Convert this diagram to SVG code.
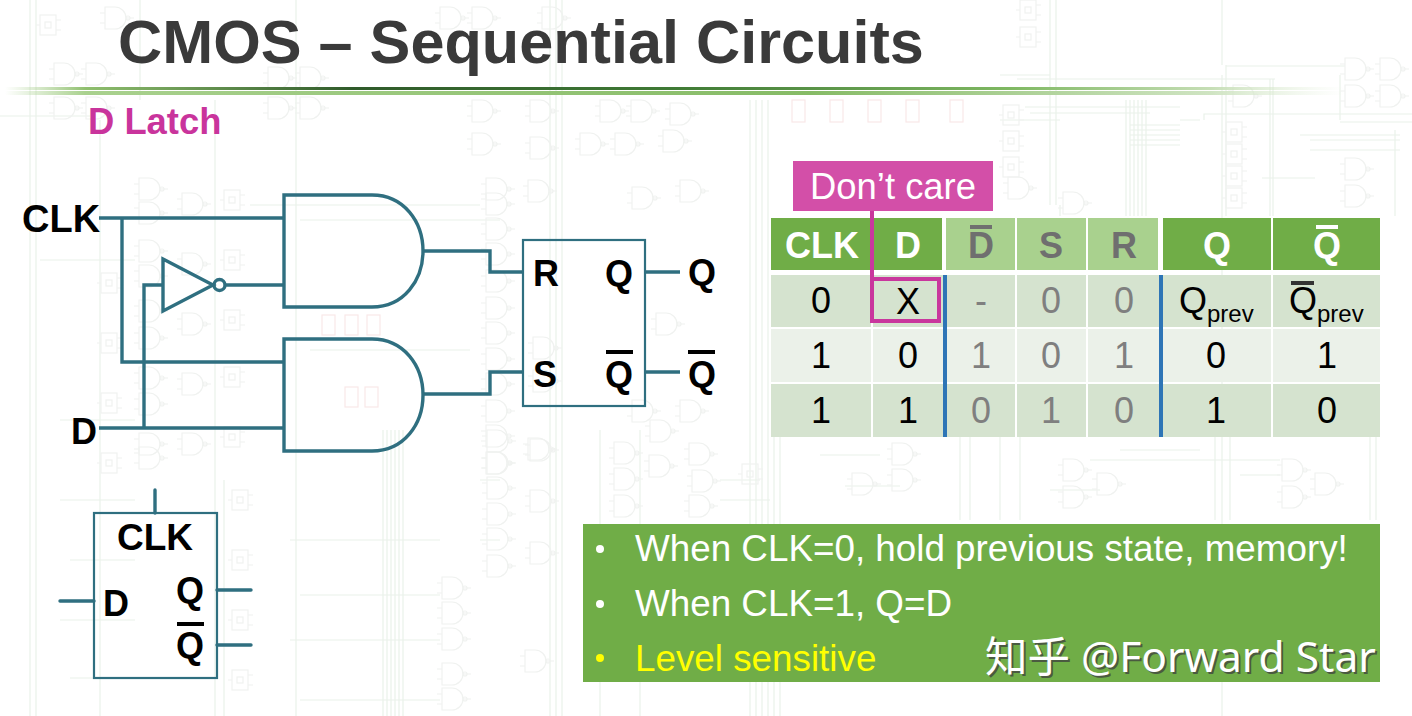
<svg xmlns="http://www.w3.org/2000/svg" width="1412" height="716" viewBox="0 0 1412 716">
<style>
text{font-family:"Liberation Sans",Arial,sans-serif}
.w{stroke:#2f6f80;stroke-width:3.4;fill:none}
.thin{stroke:#2f6f80;stroke-width:2.2;fill:none}
.g{fill:none;stroke:#f0f2f0;stroke-width:1.2}
.bus{fill:none;stroke:#e9f2e9;stroke-width:1.2}
.seg{fill:none;stroke:#f9e8e8;stroke-width:1.2}
.b{font-weight:700;fill:#000;font-size:36px}
.tc{text-anchor:middle}
.hd{font-weight:700;fill:#fff;font-size:36px;text-anchor:middle}
.hm{font-weight:700;fill:#6f6f6f;font-size:36px;text-anchor:middle}
.v{fill:#000;font-size:36px;text-anchor:middle}
.vm{fill:#7f7f7f;font-size:36px;text-anchor:middle}
.sub{font-size:24px;fill:#000}
.li{fill:#fff;font-size:36.8px}
.hg{fill:#70ad47}.hl{fill:#a9d18e}.r1{fill:#d5e3cf}.r2{fill:#ebf1e9}
.blue{fill:#2e75b6}
</style>
<defs>
<linearGradient id="rule" x1="0" x2="1" y1="0" y2="0">
<stop offset="0" stop-color="#a9d18e" stop-opacity="0"/>
<stop offset=".06" stop-color="#8fbf6e"/>
<stop offset=".26" stop-color="#2f5a2a"/>
<stop offset=".5" stop-color="#3f7a35"/>
<stop offset=".75" stop-color="#7fb862"/>
<stop offset=".9" stop-color="#c6deb6"/>
<stop offset="1" stop-color="#e4f0dc" stop-opacity="0"/>
</linearGradient>
<linearGradient id="rule2" x1="0" x2="1" y1="0" y2="0">
<stop offset="0" stop-color="#a9d18e" stop-opacity="0"/>
<stop offset=".06" stop-color="#a9d18e"/>
<stop offset=".6" stop-color="#86bb66"/>
<stop offset=".9" stop-color="#cfe4c2"/>
<stop offset="1" stop-color="#e4f0dc" stop-opacity="0"/>
</linearGradient>
<g id="nand"><path class="g" d="M0 0h10a11 11 0 0 1 0 22H0zM21 11h8M-5 6h5M-5 16h5"/><circle class="g" cx="23" cy="11" r="2"/></g>
<g id="rom"><rect class="g" width="16" height="20"/><rect class="g" x="5" y="7" width="6" height="6"/><path class="g" d="M16 5h5M16 15h5M-4 10h4"/></g>
</defs>
<rect width="1412" height="716" fill="#fff"/>
<g id="background">
<path class="bus" d="M30 0V716M36 0V716M100 120V716M140 0V100M215 100V716M224 480V716M296 0V716M383 430V716M387 430V716M391 430V716M395 430V716M399 430V716M403 430V716M550 0V716M556 0V716M562 0V716M600 430V716M640 430V716M750 100V716M756 100V716M762 100V716M768 100V716M774 436V716M780 436V716M960 436V520M970 436V520M1000 436V520M1020 436V520M1050 0V205M1056 0V205M1060 205V216M1126 100V216M1130 100V216M1134 100V216M1138 100V216M1142 100V216M1146 100V216M1222 0V65M1222 75V716M1226 65V216M1270 79V216M1273 79V216M1340 75V120M1395 130V216M1215 436V520M1230 436V520M1370 436V520M1376 436V520"/>
<path class="bus" d="M0 116H90M1017 79H1275M1226 66H1345M1025 107H1180M1030 113H1150M1130 125H1180M1130 130H1180M1130 135H1180M1130 140H1180M1130 145H1180M1180 120H1200M1204 120V114H1412M1340 122H1412M1300 135H1400M1310 140H1400M1310 150H1400M1262 178H1315M300 220H500M40 260H135M250 205H480M310 350H470M60 420H135M60 620H135M70 560H135M60 500H135M70 678H135M290 540H440M300 595H440M290 640H440M300 700H440M480 480H500M480 540H500M600 650H780M1090 460H1280M720 480H760M1050 490H1100M1000 120H1060M1050 75H1000M820 455H880M845 486H900M1120 450H1200M1240 475H1280M720 500H770"/>
<g id="gates">
<use href="#nand" x="487" y="430"/><use href="#nand" x="487" y="452"/><use href="#nand" x="530" y="439"/><use href="#nand" x="487" y="477"/><use href="#nand" x="487" y="503"/><use href="#nand" x="530" y="490"/><use href="#nand" x="487" y="528"/><use href="#nand" x="487" y="555"/><use href="#nand" x="530" y="542"/><use href="#nand" x="442" y="577"/><use href="#nand" x="442" y="602"/><use href="#nand" x="442" y="628"/><use href="#nand" x="442" y="663"/><use href="#nand" x="442" y="688"/><use href="#nand" x="525" y="650"/><use href="#nand" x="614" y="442"/><use href="#nand" x="614" y="468"/><use href="#nand" x="614" y="495"/><use href="#nand" x="649" y="455"/><use href="#nand" x="689" y="443"/><use href="#nand" x="692" y="470"/><use href="#nand" x="689" y="495"/>
<use href="#nand" x="1345" y="58"/><use href="#nand" x="1380" y="58"/><use href="#nand" x="1345" y="85"/><use href="#nand" x="1380" y="85"/><use href="#nand" x="1233" y="85"/><use href="#nand" x="1345" y="158"/><use href="#nand" x="1345" y="185"/><use href="#nand" x="1063" y="192"/><use href="#nand" x="1008" y="177"/>
<use href="#nand" x="892" y="443"/><use href="#nand" x="892" y="469"/><use href="#nand" x="852" y="473"/><use href="#nand" x="1063" y="459"/><use href="#nand" x="1063" y="486"/><use href="#nand" x="1097" y="473"/><use href="#nand" x="1282" y="459"/><use href="#nand" x="1282" y="486"/><use href="#nand" x="1315" y="473"/>
<use href="#nand" x="105" y="7"/><use href="#nand" x="54" y="63"/><use href="#nand" x="86" y="63"/><use href="#nand" x="54" y="97"/><use href="#nand" x="86" y="97"/><use href="#nand" x="268" y="67"/><use href="#nand" x="300" y="67"/><use href="#nand" x="268" y="97"/><use href="#nand" x="300" y="97"/><use href="#nand" x="440" y="7"/><use href="#nand" x="472" y="7"/><use href="#nand" x="542" y="7"/><use href="#nand" x="472" y="100"/><use href="#nand" x="530" y="100"/><use href="#nand" x="600" y="100"/><use href="#nand" x="631" y="100"/><use href="#nand" x="670" y="103"/><use href="#nand" x="472" y="133"/><use href="#nand" x="530" y="137"/><use href="#nand" x="580" y="133"/><use href="#nand" x="615" y="133"/><use href="#nand" x="663" y="130"/>
<use href="#nand" x="139" y="178"/><use href="#nand" x="139" y="202"/><use href="#nand" x="182" y="193"/><use href="#nand" x="139" y="240"/><use href="#nand" x="182" y="253"/><use href="#nand" x="139" y="265"/><use href="#nand" x="139" y="300"/><use href="#nand" x="182" y="313"/><use href="#nand" x="139" y="327"/><use href="#nand" x="139" y="367"/><use href="#nand" x="182" y="373"/><use href="#nand" x="139" y="393"/><use href="#nand" x="139" y="433"/><use href="#nand" x="182" y="433"/><use href="#nand" x="139" y="447"/>
<use href="#nand" x="486" y="178"/><use href="#nand" x="528" y="180"/><use href="#nand" x="486" y="193"/><use href="#nand" x="486" y="218"/><use href="#nand" x="486" y="243"/><use href="#nand" x="486" y="270"/><use href="#nand" x="486" y="297"/><use href="#nand" x="486" y="322"/><use href="#nand" x="486" y="348"/><use href="#nand" x="533" y="337"/><use href="#nand" x="533" y="370"/><use href="#nand" x="486" y="373"/><use href="#nand" x="486" y="400"/><use href="#nand" x="486" y="425"/><use href="#nand" x="528" y="438"/><use href="#nand" x="486" y="452"/><use href="#nand" x="632" y="187"/><use href="#nand" x="680" y="180"/><use href="#nand" x="656" y="313"/><use href="#nand" x="680" y="400"/><use href="#nand" x="632" y="400"/><use href="#nand" x="650" y="420"/>
<use href="#rom" x="101" y="273"/><use href="#rom" x="101" y="333"/><use href="#rom" x="101" y="393"/><use href="#rom" x="101" y="453"/><use href="#rom" x="224" y="190"/><use href="#rom" x="224" y="250"/><use href="#rom" x="224" y="310"/><use href="#rom" x="224" y="367"/><use href="#rom" x="224" y="427"/><use href="#rom" x="232" y="490"/><use href="#rom" x="232" y="550"/><use href="#rom" x="232" y="610"/><use href="#rom" x="232" y="670"/><use href="#rom" x="1003" y="105"/><use href="#rom" x="1003" y="131"/><use href="#rom" x="1003" y="157"/><use href="#rom" x="1226" y="122"/><use href="#rom" x="1226" y="144"/><use href="#rom" x="1226" y="166"/><use href="#rom" x="1226" y="188"/><use href="#rom" x="742" y="464"/><use href="#rom" x="1020" y="0"/><use href="#rom" x="1020" y="27"/><use href="#rom" x="40" y="15"/>
</g>
<g id="segments"><rect class="seg" x="792" y="100" width="13" height="22"/><rect class="seg" x="830" y="100" width="13" height="22"/><rect class="seg" x="868" y="100" width="13" height="22"/><rect class="seg" x="906" y="100" width="13" height="22"/><rect class="seg" x="950" y="100" width="13" height="22"/><rect class="seg" x="322" y="315" width="13" height="20"/><rect class="seg" x="345" y="315" width="13" height="20"/><rect class="seg" x="367" y="315" width="13" height="20"/><rect class="seg" x="345" y="387" width="13" height="20"/><rect class="seg" x="365" y="387" width="13" height="20"/></g>
</g>
<g id="title"><text x="118" y="63" font-size="61.200" font-weight="700" fill="#3a3a3a">CMOS – Sequential Circuits</text>
<rect x="5" y="87" width="1340" height="3" fill="url(#rule)"/><rect x="5" y="91" width="1340" height="4" fill="url(#rule2)"/></g>
<text id="section" x="88" y="134" font-size="36.400" font-weight="700" fill="#c9349c">D Latch</text>
<g id="connectors">
<path class="w" d="M99 218H284M122 218V362H284M99 428H284M144 428V285H163M225 285H284M423 251H490V272H523M423 394H490V372H523M645 272H680M645 372H680"/>
<path class="w" d="M155 490V513M60 601H94M217 590H251M217 645H251" stroke-linecap="round"/>
</g>
<g id="and1"><path class="w" d="M284 195H372C404 195 423 222 423 251S404 307 372 307H284Z"/></g>
<g id="and2"><path class="w" d="M284 339H372C404 339 423 366 423 395S404 451 372 451H284Z"/></g>
<g id="inverter"><path class="w" d="M163 259L213 285L163 311Z"/><circle class="w" cx="219.500" cy="285" r="5.500" fill="#fff"/></g>
<g id="labels"><text class="b" x="22" y="232" style="font-size:38px">CLK</text><text class="b" x="71" y="444">D</text></g>
<g id="sr-latch"><rect class="thin" x="523" y="240" width="122" height="166"/>
<text class="b" x="533" y="286">R</text><text class="b" x="533" y="387">S</text><text class="b" x="605" y="286">Q</text><text class="b" x="605" y="387">Q</text><rect x="606" y="350" width="27" height="4"/>
<text class="b" x="688" y="285">Q</text><text class="b" x="688" y="387">Q</text><rect x="688" y="350" width="27" height="4"/></g>
<g id="d-latch"><rect class="thin" x="94" y="513" width="123" height="165"/>
<text class="b tc" x="155" y="550" style="font-size:37px">CLK</text><text class="b" x="103" y="616">D</text><text class="b" x="176" y="603">Q</text><text class="b" x="176" y="658">Q</text><rect x="177" y="622" width="27" height="4"/></g>
<g id="table">
<rect class="hg" x="771" y="218" width="171" height="52"/><rect class="hl" x="946" y="218" width="69" height="52"/><rect class="hl" x="1017" y="218" width="69" height="52"/><rect class="hl" x="1088" y="218" width="70" height="52"/><rect class="hg" x="1163" y="218" width="108" height="52"/><rect class="hg" x="1273" y="218" width="107" height="52"/>
<rect class="r1" x="771" y="275" width="100" height="52"/><rect class="r1" x="873" y="275" width="71" height="52"/><rect class="r1" x="946" y="275" width="69" height="52"/><rect class="r1" x="1017" y="275" width="69" height="52"/><rect class="r1" x="1088" y="275" width="72" height="52"/><rect class="r1" x="1163" y="275" width="108" height="52"/><rect class="r1" x="1273" y="275" width="107" height="52"/>
<rect class="r2" x="771" y="329" width="100" height="53"/><rect class="r2" x="873" y="329" width="71" height="53"/><rect class="r2" x="946" y="329" width="69" height="53"/><rect class="r2" x="1017" y="329" width="69" height="53"/><rect class="r2" x="1088" y="329" width="72" height="53"/><rect class="r2" x="1163" y="329" width="108" height="53"/><rect class="r2" x="1273" y="329" width="107" height="53"/>
<rect class="r1" x="771" y="384" width="100" height="53"/><rect class="r1" x="873" y="384" width="71" height="53"/><rect class="r1" x="946" y="384" width="69" height="53"/><rect class="r1" x="1017" y="384" width="69" height="53"/><rect class="r1" x="1088" y="384" width="72" height="53"/><rect class="r1" x="1163" y="384" width="108" height="53"/><rect class="r1" x="1273" y="384" width="107" height="53"/>
<rect class="blue" x="943" y="275" width="4" height="162"/><rect class="blue" x="1159" y="275" width="4" height="162"/>
<text class="hd" x="822" y="258">CLK</text><text class="hd" x="908" y="258">D</text><text class="hm" x="981" y="258">D</text><text class="hm" x="1051" y="258">S</text><text class="hm" x="1124" y="258">R</text><text class="hd" x="1217" y="258">Q</text><text class="hd" x="1327" y="258">Q</text>
<rect x="970" y="225" width="22" height="4" fill="#6f6f6f"/><rect x="1316" y="225" width="22" height="4" fill="#fff"/>
<text class="v" x="821" y="313">0</text><text class="v" x="908" y="314">X</text><text class="vm" x="981" y="313">-</text><text class="vm" x="1051" y="313">0</text><text class="vm" x="1124" y="313">0</text>
<text x="1179" y="313" font-size="36" fill="#000">Q<tspan class="sub" dy="9">prev</tspan></text><text x="1289" y="313" font-size="36" fill="#000">Q<tspan class="sub" dy="9">prev</tspan></text><rect x="1291" y="281" width="23" height="4" fill="#333"/>
<text class="v" x="821" y="368">1</text><text class="v" x="908" y="368">0</text><text class="vm" x="981" y="368">1</text><text class="vm" x="1051" y="368">0</text><text class="vm" x="1124" y="368">1</text><text class="v" x="1216" y="368">0</text><text class="v" x="1327" y="368">1</text>
<text class="v" x="821" y="423">1</text><text class="v" x="908" y="423">1</text><text class="vm" x="981" y="423">0</text><text class="vm" x="1051" y="423">1</text><text class="vm" x="1124" y="423">0</text><text class="v" x="1216" y="423">1</text><text class="v" x="1327" y="423">0</text>
</g>
<g id="dont-care"><rect x="793" y="161" width="200" height="50" fill="#d34fa8"/><text x="893" y="199" font-size="36.400" fill="#fff" text-anchor="middle">Don’t care</text>
<path d="M872 211V321H939V279H872" fill="none" stroke="#c9379d" stroke-width="4"/></g>
<g id="notes"><rect x="583" y="524" width="797" height="158" fill="#70ad47"/>
<circle cx="600" cy="549" r="4" fill="#fff"/><circle cx="600" cy="604" r="4" fill="#fff"/><circle cx="600" cy="658" r="4" fill="#ffff00"/>
<text class="li" x="635" y="561">When CLK=0, hold previous state, memory!</text><text class="li" x="635" y="616">When CLK=1, Q=D</text><text class="li" x="635" y="671" style="fill:#ffff00">Level sensitive</text>
<text x="985" y="672" font-size="42.500" fill="#fff" style="font-family:'Noto Sans','Noto Sans CJK SC',sans-serif;text-shadow:2px 2px 0 #4a5a40">知乎 @Forward Star</text></g>
</svg>
